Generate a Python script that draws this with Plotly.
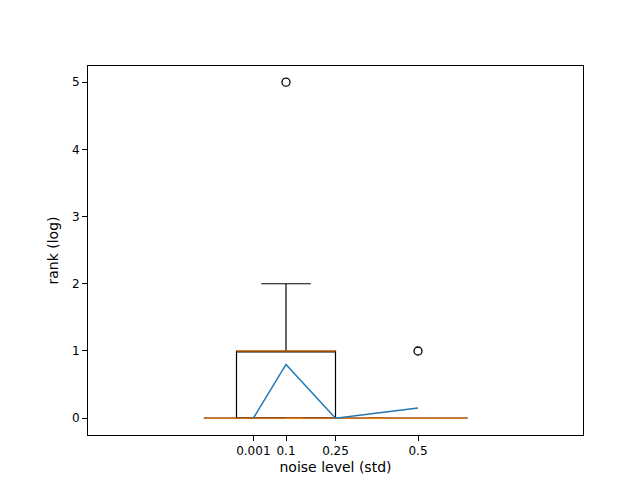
import plotly.graph_objects as go

# noise levels and box statistics of rank per level
noise = [0.001, 0.1, 0.25, 0.5]
q1 = [0, 0, 0, 0]
median = [0, 1, 0, 0]
q3 = [0, 1, 0, 0]
lower = [0, 0, 0, 0]
upper = [0, 2, 0, 0]
mean_rank = [0, 0.8, 0, 0.15]
outlier_x = [0.1, 0.5]
outlier_y = [5, 1]
box_w = 0.3

fig = go.Figure()
fig.add_trace(go.Box(x=noise, q1=q1, median=median, q3=q3,
                     lowerfence=lower, upperfence=upper,
                     width=box_w, whiskerwidth=0.5,
                     line=dict(color="black", width=1.2),
                     fillcolor="rgba(0,0,0,0)", boxpoints=False,
                     hoverinfo="skip"))
fig.add_trace(go.Scatter(x=outlier_x, y=outlier_y, mode="markers",
                         marker=dict(symbol="circle-open", size=8, color="black",
                                     line=dict(width=1.3))))
# median lines (orange, like matplotlib)
for xi, m in zip(noise, median):
    fig.add_trace(go.Scatter(x=[xi - box_w / 2, xi + box_w / 2], y=[m, m], mode="lines",
                             line=dict(color="#ff7f0e", width=1.5), opacity=0.8))
fig.add_trace(go.Scatter(x=noise, y=mean_rank, mode="lines",
                         line=dict(color="#1f77b4", width=1.5)))

ax = dict(showgrid=False, zeroline=False, showline=True, mirror=True,
          linecolor="black", ticks="outside", tickcolor="black", automargin=False,
          tickfont=dict(size=12, color="black"))
fig.update_layout(width=640, height=480, showlegend=False,
                  plot_bgcolor="white", paper_bgcolor="white",
                  font=dict(family="DejaVu Sans", size=12, color="black"),
                  margin=dict(l=80, r=65, t=58, b=53),
                  xaxis=dict(ax, range=[-0.5, 1.0], tickvals=noise,
                             ticktext=[str(v) for v in noise],
                             title=dict(text="noise level (std)", standoff=4)),
                  yaxis=dict(ax, range=[-0.25, 5.24], tickvals=[0, 1, 2, 3, 4, 5],
                             title=dict(text="rank (log)", standoff=10)))
fig.write_html("out.html")
